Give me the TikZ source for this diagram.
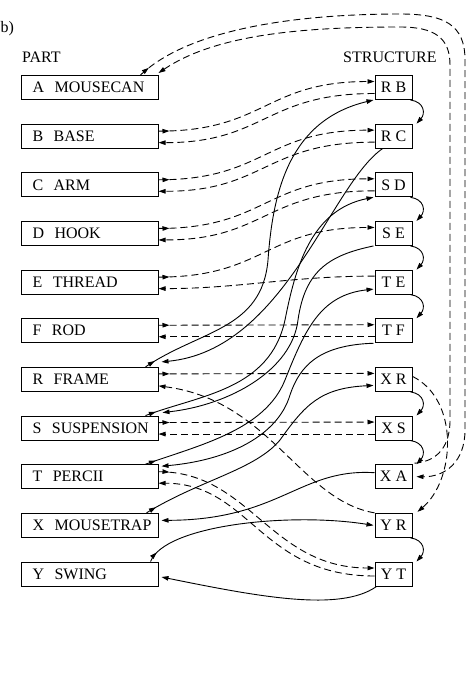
\documentclass[tikz,border=0pt]{standalone}
\usepackage{fontspec}
\setmainfont{Liberation Serif}
\usetikzlibrary{arrows.meta,decorations.markings,calc}
\newcommand\partgap{\hspace{10.5pt}}
\newcommand\plabel[1]{\makebox[114pt][l]{#1}}
\begin{document}
\begin{tikzpicture}[x=1pt,y=-1pt,
  font=\fontsize{16}{19}\selectfont,
  lbox/.style={draw,line width=1pt,rectangle,minimum height=24pt,minimum width=137pt,inner xsep=11.5pt,inner ysep=0pt},
  rbox/.style={draw,line width=1pt,rectangle,minimum height=24pt,minimum width=37pt,inner sep=0pt},
  con/.style={line width=0.9pt,-{Triangle[length=7pt,width=4.5pt]}},
  dsh/.style={con,dash pattern=on 7pt off 4pt},
  mk/.style={postaction={decorate},decoration={markings,mark=at position 11pt with {\arrow{Triangle[length=7pt,width=4.5pt]}}}},
  head/.style={inner sep=0pt,anchor=base west}
]
\useasboundingbox (0,0) rectangle (474,675);
% headings
\node[inner sep=0pt,anchor=base west] (sub) at (0.5,32) {b)};
\node[head] (parthead) at (22,62) {PART};
\node[head] (structhead) at (343,62) {STRUCTURE};
% parts
\node[lbox] (A) at (89.5,87.5) {\plabel{A\partgap MOUSECAN}};
\node[lbox] (B) at (89.5,136.15) {\plabel{B\partgap BASE}};
\node[lbox] (C) at (89.5,184.8) {\plabel{C\partgap ARM}};
\node[lbox] (D) at (89.5,233.45) {\plabel{D\partgap HOOK}};
\node[lbox] (E) at (89.5,282.1) {\plabel{E\partgap THREAD}};
\node[lbox] (F) at (89.5,330.75) {\plabel{F\partgap ROD}};
\node[lbox] (R) at (89.5,379.4) {\plabel{R\partgap FRAME}};
\node[lbox] (S) at (89.5,428.05) {\plabel{S\partgap SUSPENSION}};
\node[lbox] (T) at (89.5,476.7) {\plabel{T\partgap PERCII}};
\node[lbox] (X) at (89.5,525.35) {\plabel{X\partgap MOUSETRAP}};
\node[lbox] (Y) at (89.5,574) {\plabel{Y\partgap SWING}};
% structures
\node[rbox] (RB) at (393.5,87.5) {R B};
\node[rbox] (RC) at (393.5,136.15) {R C};
\node[rbox] (SD) at (393.5,184.8) {S D};
\node[rbox] (SE) at (393.5,233.45) {S E};
\node[rbox] (TE) at (393.5,282.1) {T E};
\node[rbox] (TF) at (393.5,330.75) {T F};
\node[rbox] (XR) at (393.5,379.4) {X R};
\node[rbox] (XS) at (393.5,428.05) {X S};
\node[rbox] (XA) at (393.5,476.7) {X A};
\node[rbox] (YR) at (393.5,525.35) {Y R};
\node[rbox] (YT) at (393.5,574) {Y T};
% dashed part <-> structure
\draw[dsh,mk] ($(B.east)+(0,-5)$) .. controls (265,131.2) and (265,81.5) .. ($(RB.west)+(0,-6)$);
\draw[dsh] ($(RB.west)+(0,6)$) .. controls (265,93.5) and (265,142.7) .. ($(B.east)+(0,6.5)$);
\draw[dsh,mk] ($(C.east)+(0,-5)$) .. controls (265,179.8) and (265,130.2) .. ($(RC.west)+(0,-6)$);
\draw[dsh] ($(RC.west)+(0,6)$) .. controls (265,142.2) and (265,191.3) .. ($(C.east)+(0,6.5)$);
\draw[dsh,mk] ($(D.east)+(0,-5)$) .. controls (265,228.5) and (265,178.8) .. ($(SD.west)+(0,-6)$);
\draw[dsh] ($(SD.west)+(0,6)$) .. controls (265,190.8) and (265,240) .. ($(D.east)+(0,6.5)$);
\draw[dsh,mk] ($(E.east)+(0,-5)$) .. controls (265,277.1) and (265,227.5) .. ($(SE.west)+(0,-6)$);
\draw[dsh] ($(TE.west)+(0,-6)$) .. controls (290,276.1) and (240,288.6) .. ($(E.east)+(0,6.5)$);
\draw[dsh,mk] ($(F.east)+(0,-5.5)$) -- ($(TF.west)+(0,-6)$);
\draw[dsh] ($(TF.west)+(0,6)$) -- ($(F.east)+(0,6)$);
\draw[dsh,mk] ($(R.east)+(0,-5.5)$) -- ($(XR.west)+(0,-6)$);
\draw[dsh] (YR.north west) .. controls (300,500) and (270,400) .. ($(R.east)+(0,6.5)$);
\draw[dsh,mk] ($(S.east)+(0,-5.5)$) -- ($(XS.west)+(0,-6)$);
\draw[dsh] ($(XS.west)+(0,6)$) -- ($(S.east)+(0,6)$);
\draw[dsh,mk] ($(T.east)+(0,-5)$) .. controls (250,471.7) and (270,568) .. ($(YT.west)+(0,-6)$);
\draw[dsh] ($(YT.west)+(0,2)$) .. controls (260,576) and (250,483.2) .. ($(T.east)+(0,6.5)$);
% loops on the right
\draw[dsh,mk] ($(A.north east)+(-18,0)$) .. controls (190,28) and (300,14) .. (400,14) .. controls (445,14) and (465,25) .. (465,60) -- (465,430) .. controls (465,462) and (445,477) .. ($(XA.east)+(4,0)$);
\draw[dsh] ($(XA.north east)+(2,-1)$) .. controls (432,462) and (450,452) .. (450,420) -- (450,65) .. controls (450,38) and (435,27) .. (400,27) .. controls (300,27) and (215,35) .. ($(A.north east)+(0,-2)$);
\draw[dsh] ($(XR.east)+(0,-3)$) .. controls (460,400) and (455,480) .. ($(YR.north east)+(5,-1)$);
% solid part <-> structure
\draw[con,mk] ($(R.north east)+(-13,0)$) .. controls (200,330) and (262,330) .. (268,260) .. controls (273,190) and (290,120) .. ($(RB.south west)+(-1,0)$);
\draw[con] ($(RC.south west)+(8,0)$) .. controls (330,185) and (285,350) .. ($(R.north east)+(3,-5)$);
\draw[con,mk] ($(S.north east)+(-13,0)$) .. controls (200,395) and (270,390) .. (285,320) .. controls (295,270) and (310,210) .. ($(SD.south west)+(-1,0)$);
\draw[con] ($(SE.south west)+(-1,0)$) .. controls (330,255) and (305,270) .. (298,320) .. controls (292,370) and (230,405) .. ($(S.north east)+(4,-3)$);
\draw[con,mk] ($(T.north east)+(-13,0)$) .. controls (200,445) and (265,430) .. (285,380) .. controls (305,330) and (320,295) .. ($(TE.west)+(-1,7)$);
\draw[con] ($(TF.south west)+(-1,0)$) .. controls (320,345) and (300,365) .. (290,395) .. controls (278,435) and (230,460) .. ($(T.north east)+(3,2)$);
\draw[con,mk] ($(X.north east)+(-12,0)$) .. controls (200,480) and (255,470) .. (280,440) .. controls (305,405) and (320,388) .. ($(XR.west)+(-1,6)$);
\draw[con] ($(XA.west)+(0,-4)$) .. controls (300,468) and (280,520) .. ($(X.east)+(3,-5)$);
\draw[con,mk] ($(Y.north east)+(-8,0)$) .. controls (165,525) and (290,512) .. ($(YR.west)+(-1,0)$);
\draw[con] ($(YT.south west)+(2,0)$) .. controls (340,612) and (260,597) .. ($(Y.east)+(3,3)$);
% chains between structures
\draw[con] ($(RB.south east)+(-2,0)$) .. controls +(14,2) and +(9,-10) .. ($(RC.north east)+(4,0)$);
\draw[con] ($(SD.south east)+(-2,0)$) .. controls +(14,2) and +(9,-10) .. ($(SE.north east)+(4,0)$);
\draw[con] ($(SE.south east)+(-2,0)$) .. controls +(14,2) and +(9,-10) .. ($(TE.north east)+(4,0)$);
\draw[con] ($(TE.south east)+(-2,0)$) .. controls +(14,2) and +(9,-10) .. ($(TF.north east)+(4,0)$);
\draw[con] ($(XR.south east)+(-2,0)$) .. controls +(14,2) and +(9,-10) .. ($(XS.north east)+(4,0)$);
\draw[con] ($(XS.south east)+(-2,0)$) .. controls +(14,2) and +(9,-10) .. ($(XA.north east)+(4,0)$);
\draw[con] ($(YR.south east)+(-2,0)$) .. controls +(14,2) and +(9,-10) .. ($(YT.north east)+(4,0)$);
\end{tikzpicture}
\end{document}
